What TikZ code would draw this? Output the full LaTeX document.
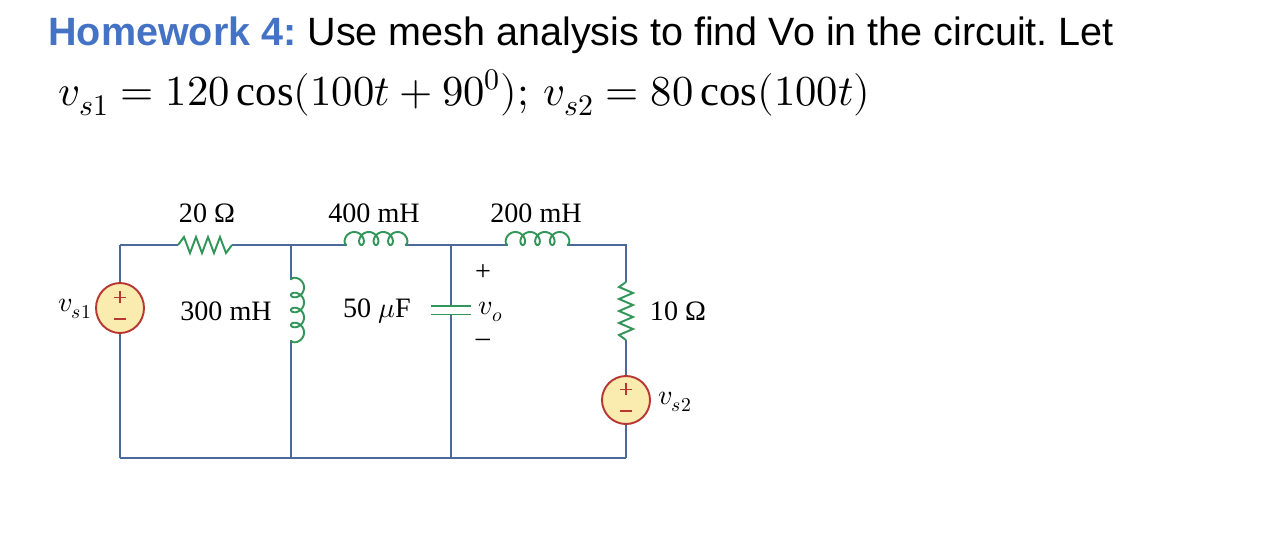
\documentclass[tikz,border=0pt]{standalone}
\usetikzlibrary{shapes.geometric}
\usepackage{fontspec}
\setmainfont{Liberation Serif}
\newfontfamily\titlefont{Liberation Sans}
\usepackage{unicode-math}
\setmathfont{Latin Modern Math}
\frenchspacing
\begin{document}
\begin{tikzpicture}[x=0.02cm,y=-0.02cm,
  wire/.style={draw={rgb,255:red,75;green,105;blue,155},line width=1.1pt},
  comp/.style={draw={rgb,255:red,50;green,150;blue,90},line width=1.1pt},
  src/.style={draw={rgb,255:red,185;green,55;blue,50},line width=1.1pt,fill={rgb,255:red,250;green,236;blue,175},ellipse,inner sep=0},
  lab/.style={font=\fontsize{16}{18}\selectfont,inner sep=0}]
\useasboundingbox (0,0) rectangle (1264,532);
% title
\node[anchor=base west,inner sep=0,font=\titlefont\fontsize{22.5}{26}\selectfont] (title) at (48,45)
  {\textcolor[RGB]{68,114,196}{\bfseries Homework 4:} Use mesh analysis to find Vo in the circuit. Let};
\node[anchor=base west,inner sep=0,font=\fontsize{24.3}{28}\selectfont] (eq) at (58,105)
  {$v_{s1}=120\cos(100t+90^{0});\, v_{s2}=80\cos(100t)$};
% coordinates
\coordinate (tl) at (120,245); \coordinate (bl) at (120,458);
\coordinate (t2) at (291,245); \coordinate (b2) at (291,458);
\coordinate (t3) at (451,245); \coordinate (b3) at (451,458);
\coordinate (tr) at (626,245); \coordinate (br) at (626,458);
% wires
\path[wire] (bl) -- (br);
\path[wire] (tl) -- (178,245) (232,245) -- (347,245) (405,245) -- (508,245) (567,245) -- (tr) -- (626,282) (626,340) -- (626,376) (626,424) -- (br);
\path[wire] (tl) -- (120,284) (120,332) -- (bl);
\path[wire] (t2) -- (291,280) (291,340) -- (b2);
\path[wire] (t3) -- (451,306) (451,314.5) -- (b3);
% resistor 20
\path[comp] (178,245) -- (184,237) -- (190,253) -- (196,237) -- (202,253) -- (208,237) -- (214,253) -- (220,237) -- (226,253) -- (232,245);
% resistor 10
\path[comp] (626,282) -- (619,287) -- (633,293) -- (619,299) -- (633,305) -- (619,311) -- (633,317) -- (619,323) -- (633,329) -- (619,335) -- (626,340);
% inductors horizontal
\path[comp] plot[domain=0:4,samples=160,smooth] ({347+14.5*\x-5.5*sin(\x*360)}, {245-6.5*(1-cos(\x*360))});
\path[comp] plot[domain=0:4,samples=160,smooth] ({508+14.75*\x-5.5*sin(\x*360)}, {245-6.5*(1-cos(\x*360))});
% inductor vertical
\path[comp] plot[domain=0:4,samples=160,smooth] ({291+6.5*(1-cos(\x*360))}, {280+15*\x-5.5*sin(\x*360)});
% capacitor
\path[comp] (431,306) -- (471,306) (431,314.5) -- (471,314.5);
% sources
\node[src,minimum width=0.96cm,minimum height=1.0cm] (vs1) at (120,308) {};
\node[src,minimum width=0.96cm,minimum height=0.96cm] (vs2) at (626,400) {};
\foreach \s in {vs1,vs2}{
  \path[draw={rgb,255:red,185;green,55;blue,50},line width=1.1pt] ([yshift=6pt]\s.center) ++(-6,0) -- ++(12,0) ([yshift=6pt]\s.center) ++(0,-6) -- ++(0,12);
  \path[draw={rgb,255:red,185;green,55;blue,50},line width=1.1pt] ([yshift=-6pt]\s.center) ++(-6,0) -- ++(12,0);
}
% labels
\node[lab] (l20) at (207,213) {20 Ω};
\node[lab] (l400) at (374,213) {400 mH};
\node[lab] (l200) at (536,213) {200 mH};
\node[lab] (l300) at (226,311) {300 mH};
\node[lab] (l50) at (377,311) {50 $\mu$F};
\node[lab] (l10) at (678,311) {10 Ω};
\node[lab] (lvs1) at (75,309) {$v_{s1}$};
\node[lab] (lvs2) at (675,402) {$v_{s2}$};
\node[lab] (lvo) at (491,312) {$v_o$};
\node[lab] (lp) at (483,273) {+};
\node[lab] (lm) at (483,343) {–};
\end{tikzpicture}
\end{document}
